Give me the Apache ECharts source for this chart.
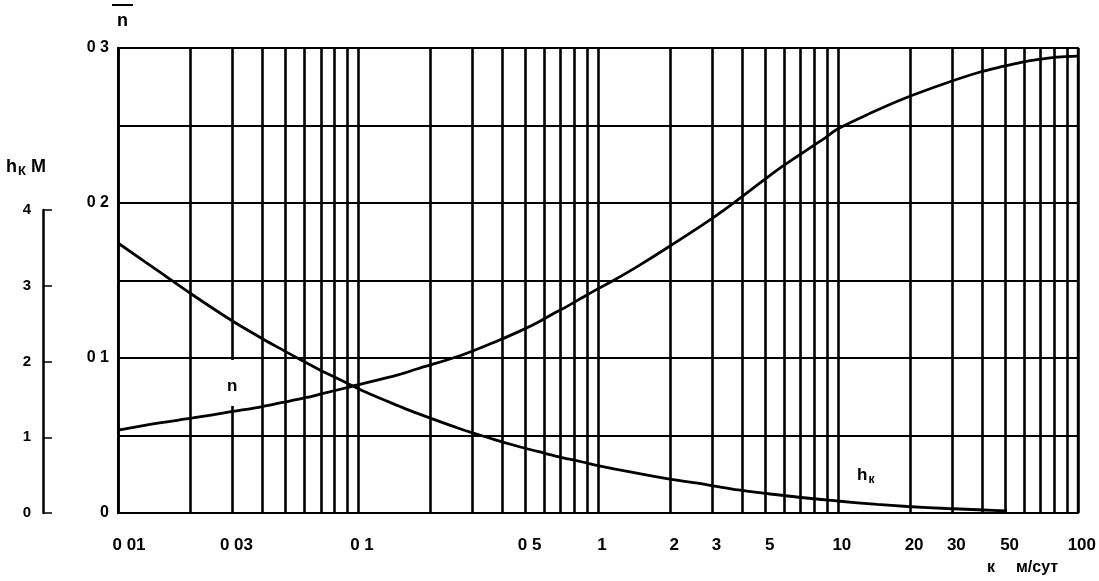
<!DOCTYPE html>
<html><head><meta charset="utf-8">
<script src="https://cdn.jsdelivr.net/npm/echarts@6/dist/echarts.min.js"></script>
<style>html,body{margin:0;padding:0;background:#fff}#c{width:1099px;height:581px}</style>
</head><body><div id="c"></div>
<script>
// Vertical grid lines of the log paper (K, m/day)
const kGrid = [0.01,0.02,0.03,0.04,0.05,0.06,0.07,0.08,0.09,
  0.1,0.2,0.3,0.4,0.5,0.6,0.7,0.8,0.9,
  1,2,3,4,5,6,7,8,9,
  10,20,30,40,50,60,70,80,90,100];
const kLabelValues = [0.01,0.03,0.1,0.5,1,2,3,5,10,20,30,50,100];
const kLabelTexts = ['0 01','0 03','0 1','0 5','1','2','3','5','10','20','30','50','100'];
const nLabelValues = [0,0.1,0.2,0.3];
const nLabelTexts = ['0','0 1','0 2','0 3'];
const hLabelValues = [0,1,2,3,4];

// Curve n (rising)
const nK = [0.01,0.0149,0.0205,0.03,0.04,0.0485,0.0598,0.0703,0.0937,0.148,0.176,0.268,0.368,0.463,0.561,0.659,0.754,0.862,0.977,1.14,1.47,1.91,2.88,3.72,4.97,5.89,6.81,7.85,8.89,9.97,13.7,18.9,28.3,39.2,49.3,57.5,67.6,81.8,100];
const nVal = [0.0535,0.0581,0.0613,0.0655,0.0687,0.0713,0.0742,0.0768,0.0816,0.0893,0.0929,0.1016,0.1100,0.1167,0.1229,0.1290,0.1338,0.1390,0.1438,0.1493,0.1593,0.1703,0.1883,0.2006,0.2154,0.2238,0.2303,0.2367,0.2422,0.2477,0.2580,0.2674,0.2774,0.2845,0.2883,0.2906,0.2925,0.2941,0.2948];

// Curve h_k (falling), metres
const hK = [0.01,0.0149,0.0205,0.03,0.04,0.0485,0.0598,0.0703,0.0797,0.0937,0.111,0.148,0.176,0.268,0.368,0.463,0.561,0.659,0.754,0.862,0.977,1.38,1.94,2.90,3.84,5.01,7.0,9.97,14.6,19.5,28.6,40.7,50.7];
const hVal = [3.484,3.110,2.813,2.477,2.249,2.105,1.951,1.837,1.755,1.649,1.542,1.381,1.288,1.084,0.951,0.861,0.794,0.738,0.697,0.658,0.619,0.526,0.443,0.361,0.297,0.252,0.200,0.155,0.110,0.084,0.058,0.039,0.026];

const FONT = 'Liberation Sans';
const chart = echarts.init(document.getElementById('c'), null, {renderer: 'canvas'});
function idxOf(arr, v) { return arr.findIndex(a => Math.abs(a - v) <= Math.abs(a) * 1e-6 + 1e-12); }
const lab = (size) => ({fontFamily: FONT, fontSize: size, fontWeight: 'bold', color: '#000'});

chart.setOption({
  animation: false,
  backgroundColor: '#fff',
  grid: [
    {left: 118, right: 18, top: 48, bottom: 68, show: true, borderColor: '#000', borderWidth: 2, backgroundColor: 'transparent'},
    {left: 43, width: 20, top: 210, bottom: 68, show: false}
  ],
  xAxis: [
    {
      type: 'log', logBase: 10, min: 0.01, max: 100, gridIndex: 0,
      axisLine: {show: true, lineStyle: {color: '#000', width: 2}},
      axisTick: {show: false, customValues: kGrid},
      splitLine: {show: true, lineStyle: {color: '#000', width: 2.6}},
      minorTick: {show: false}, minorSplitLine: {show: false},
      axisLabel: Object.assign(lab(17), {
        customValues: kLabelValues, margin: 24,
        formatter: function (v) {
          const i = idxOf(kLabelValues, v);
          if (i < 0) return '';
          return i === 0 ? '{f|' + kLabelTexts[i] + '}' : '{a|' + kLabelTexts[i] + '}';
        },
        rich: {
          a: Object.assign(lab(17), {padding: [0, 0, 0, 8]}),
          f: Object.assign(lab(17), {padding: [0, 0, 0, 22]})
        }
      })
    },
    {type: 'value', gridIndex: 1, show: false, min: 0, max: 1}
  ],
  yAxis: [
    {
      type: 'value', gridIndex: 0, min: 0, max: 0.3, interval: 0.05,
      axisLine: {show: true, lineStyle: {color: '#000', width: 2.5}},
      axisTick: {show: false},
      splitLine: {show: true, lineStyle: {color: '#000', width: 2}},
      axisLabel: Object.assign(lab(16), {
        margin: 9,
        formatter: function (v) { const i = idxOf(nLabelValues, v); return i < 0 ? '' : nLabelTexts[i]; }
      })
    },
    {type: 'value', gridIndex: 0, min: 0, max: 6, show: false, splitLine: {show: false}},
    {
      type: 'value', gridIndex: 1, min: 0, max: 4, interval: 1, position: 'left',
      axisLine: {show: true, lineStyle: {color: '#000', width: 2.5}},
      axisTick: {show: true, inside: true, length: 9, lineStyle: {color: '#000', width: 1.5}},
      splitLine: {show: false},
      axisLabel: Object.assign(lab(15), {
        margin: 12,
        formatter: function (v) { return idxOf(hLabelValues, v) < 0 ? '' : String(v); }
      })
    }
  ],
  series: [
    {
      name: 'n', type: 'line', xAxisIndex: 0, yAxisIndex: 0, smooth: 0.35, symbol: 'none',
      lineStyle: {color: '#000', width: 2.8}, z: 5,
      data: nK.map((k, i) => [k, nVal[i]])
    },
    {
      name: 'hk', type: 'line', xAxisIndex: 0, yAxisIndex: 1, smooth: 0.35, symbol: 'none',
      lineStyle: {color: '#000', width: 2.8}, z: 5,
      data: hK.map((k, i) => [k, hVal[i]])
    }
  ],
  graphic: [
    {type: 'line', shape: {x1: 112, y1: 5, x2: 133, y2: 5}, style: {stroke: '#000', lineWidth: 2}},
    {type: 'text', left: 117, top: 12, style: {text: 'n', fontFamily: FONT, fontSize: 18, fontWeight: 'bold', fill: '#000'}},
    {type: 'text', left: 6, top: 158, style: {
      text: '{a|h}{s|К}{a| М}', fill: '#000',
      rich: {a: {fontFamily: FONT, fontSize: 18, fontWeight: 'bold', fill: '#000'},
             s: {fontFamily: FONT, fontSize: 13, fontWeight: 'bold', fill: '#000', padding: [9, 0, 0, 1]}}
    }},
    {type: 'text', z: 100, left: 224, top: 360, style: {
      text: 'n', fontFamily: FONT, fontSize: 17, fontWeight: 'bold', fill: '#000',
      backgroundColor: '#fff', padding: [18, 3, 11, 3]
    }},
    {type: 'text', z: 100, left: 857, top: 467, style: {
      text: '{a|h}{s|к}', fill: '#000',
      rich: {a: {fontFamily: FONT, fontSize: 17, fontWeight: 'bold', fill: '#000'},
             s: {fontFamily: FONT, fontSize: 12, fontWeight: 'bold', fill: '#000', padding: [8, 0, 0, 1]}}
    }},
    {type: 'text', left: 987, top: 560, style: {
      text: 'к', fontFamily: FONT, fontSize: 16, fontWeight: 'bold', fill: '#000'
    }},
    {type: 'text', left: 1016, top: 560, style: {
      text: 'м/сут', fontFamily: FONT, fontSize: 16, fontWeight: 'bold', fill: '#000'
    }}
  ]
});
</script>
</body></html>
